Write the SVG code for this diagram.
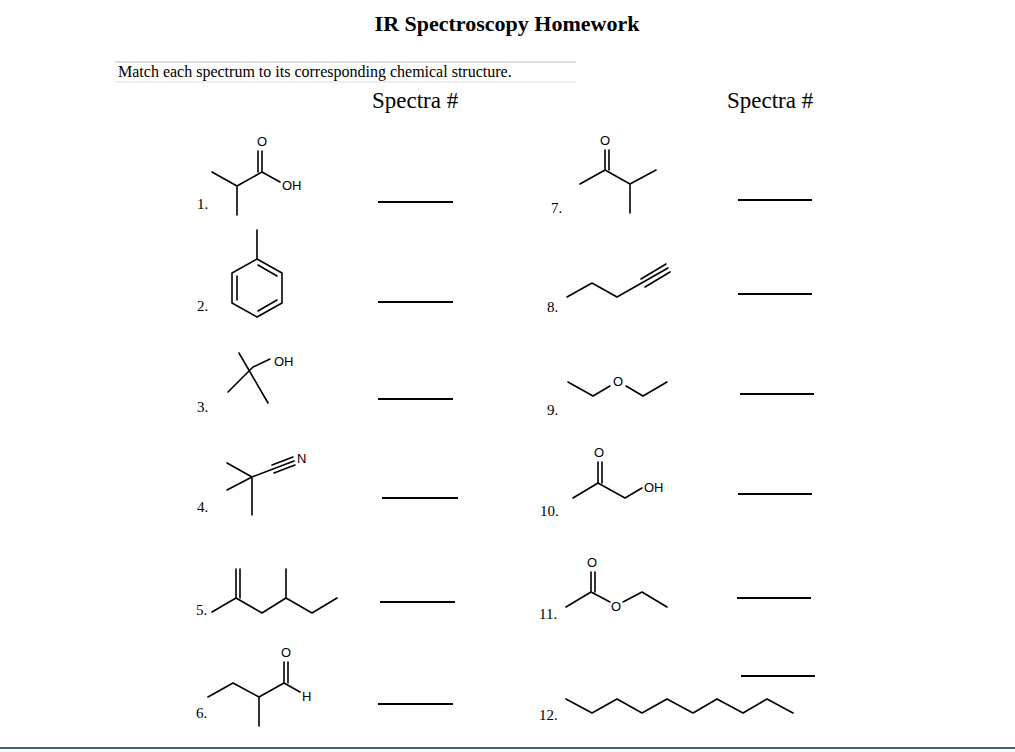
<svg xmlns="http://www.w3.org/2000/svg" width="1015" height="752" viewBox="0 0 1015 752">
<style>
.b{fill:none;stroke:#000;stroke-width:1.6;stroke-linecap:round;stroke-linejoin:round}
.bl{stroke:#000;stroke-width:2}
.n{font-family:"Liberation Serif",serif;font-size:15px;fill:#000}
.a{font-family:"Liberation Sans",Arial,sans-serif;font-size:13px;fill:#000}
.s{font-family:"Liberation Serif",serif;font-size:23px;fill:#000}
</style>
<rect width="1015" height="752" fill="#fff"/>
<text x="507" y="31" text-anchor="middle" font-family="Liberation Serif,serif" font-weight="bold" font-size="22">IR Spectroscopy Homework</text>
<line x1="115" y1="62" x2="576" y2="62" stroke="#bbb" stroke-width="1"/>
<text x="118" y="77" font-family="Liberation Serif,serif" font-size="16">Match each spectrum to its corresponding chemical structure.</text>
<line x1="115" y1="82" x2="576" y2="82" stroke="#ddd" stroke-width="1"/>
<text x="372" y="108" class="s">Spectra #</text>
<text x="727" y="108" class="s">Spectra #</text>
<g id="blanks">
<line class="bl" x1="378" y1="202" x2="453" y2="202"/><line class="bl" x1="378" y1="302" x2="453" y2="302"/>
<line class="bl" x1="378" y1="399" x2="453" y2="399"/><line class="bl" x1="382" y1="498" x2="458" y2="498"/>
<line class="bl" x1="380" y1="602" x2="455" y2="602"/><line class="bl" x1="378" y1="704" x2="453" y2="704"/>
<line class="bl" x1="738" y1="200" x2="812" y2="200"/><line class="bl" x1="738" y1="294" x2="812" y2="294"/>
<line class="bl" x1="740" y1="394" x2="814" y2="394"/><line class="bl" x1="738" y1="494" x2="812" y2="494"/>
<line class="bl" x1="737" y1="598" x2="811" y2="598"/><line class="bl" x1="741" y1="676" x2="815" y2="676"/>
</g>
<g id="m1"><text class="n" x="197" y="209">1.</text>
<path class="b" d="M212 172 L237 186 L237 215 M237 186 L262 172 L280 182 M262 172 L262 151 M258 172 L258 151"/>
<text class="a" x="262" y="146" text-anchor="middle">O</text><text class="a" x="282" y="190">OH</text></g>
<g id="m2"><text class="n" x="197" y="311">2.</text>
<path class="b" d="M257 230 L257 259 M257 259 L282 273 L282 303 L257 317 L232 303 L232 273 Z M237 276 L237 300 M258 265 L277 276 M258 311 L277 300"/></g>
<g id="m3"><text class="n" x="197" y="412">3.</text>
<path class="b" d="M239 353 L268 403 M228 392 L253 367 L270 359"/>
<text class="a" x="274" y="366">OH</text></g>
<g id="m4"><text class="n" x="197" y="512">4.</text>
<path class="b" d="M227 463 L252 477 L227 490 M252 477 L252 515 M252 477 L273 469 L294 461 M272 465 L293 457 M274 473 L295 465"/>
<text class="a" x="297" y="463">N</text></g>
<g id="m5"><text class="n" x="196" y="615">5.</text>
<path class="b" d="M212 612 L236 598 L262 613 L286 598 L312 613 L337 598 M236 598 L236 569 M240 598 L240 569 M286 598 L286 569"/></g>
<g id="m6"><text class="n" x="196" y="718">6.</text>
<path class="b" d="M208 697 L233 683 L259 697 L259 726 M259 697 L284 683 L300 692 M284 683 L284 662 M288 683 L288 662"/>
<text class="a" x="286" y="657" text-anchor="middle">O</text><text class="a" x="302" y="701">H</text></g>
<g id="m7"><text class="n" x="551" y="213">7.</text>
<path class="b" d="M580 184 L605 170 L630 184 L656 170 M630 184 L630 213 M605 170 L605 150 M609 170 L609 150"/>
<text class="a" x="605" y="145" text-anchor="middle">O</text></g>
<g id="m8"><text class="n" x="547" y="312">8.</text>
<path class="b" d="M567 297 L592 283 L617 297 L668 268 M641 279 L666 264 M645 287 L670 272"/></g>
<g id="m9"><text class="n" x="547" y="415">9.</text>
<path class="b" d="M568 382 L593 396 L610 386 M626 386 L643 396 L667 382"/>
<text class="a" x="618" y="386" text-anchor="middle">O</text></g>
<g id="m10"><text class="n" x="540" y="516">10.</text>
<path class="b" d="M573 498 L598 483 L625 498 L642 488 M598 483 L598 462 M602 483 L602 462"/>
<text class="a" x="599" y="457" text-anchor="middle">O</text><text class="a" x="644" y="492">OH</text></g>
<g id="m11"><text class="n" x="539" y="619">11.</text>
<path class="b" d="M566 607 L591 592 L610 602 M623 602 L642 592 L667 607 M591 592 L591 572 M595 592 L595 572"/>
<text class="a" x="592" y="567" text-anchor="middle">O</text><text class="a" x="616" y="611" text-anchor="middle">O</text></g>
<g id="m12"><text class="n" x="539" y="720">12.</text>
<path class="b" d="M566 699 L592 713 L617 699 L642 713 L667 699 L693 713 L717 699 L743 713 L767 699 L793 713"/></g>
<line x1="0" y1="748" x2="1015" y2="748" stroke="#3d5f8f" stroke-width="2"/>
</svg>
